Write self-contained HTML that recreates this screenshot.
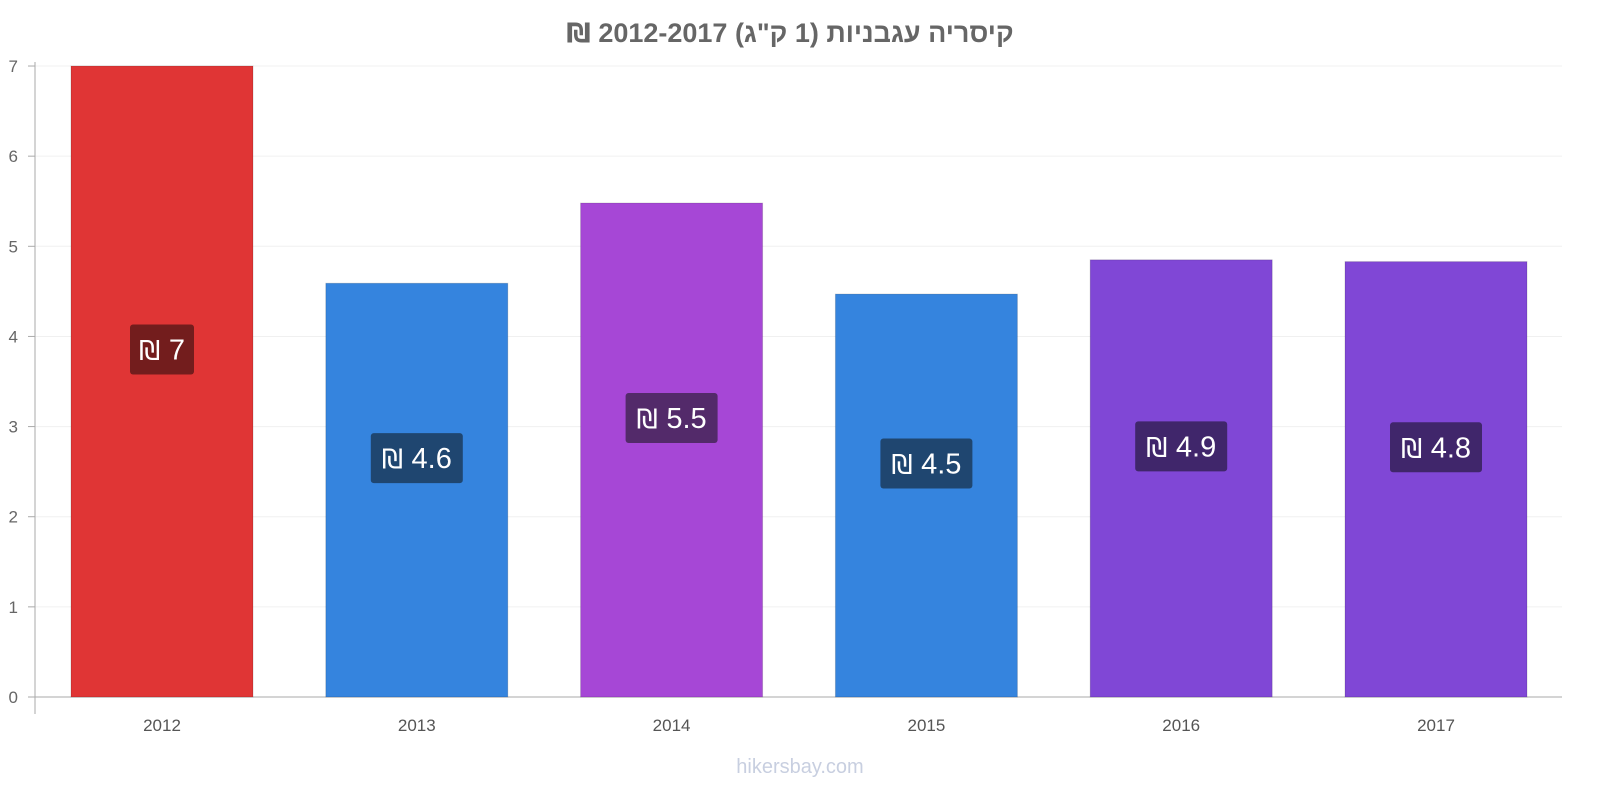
<!DOCTYPE html>
<html><head><meta charset="utf-8"><style>
body{margin:0;background:#fff;font-family:"Liberation Sans",sans-serif}
</style></head><body>
<svg id="c" width="1600" height="800" xmlns="http://www.w3.org/2000/svg">
<text x="790" y="42" text-anchor="middle" direction="rtl" font-size="27" font-weight="bold" fill="#666" font-family="Liberation Sans, DejaVu Sans, sans-serif">קיסריה עגבניות (1 ק"ג) 2012-2017 <tspan font-family="DejaVu Sans, sans-serif">₪</tspan></text>
<g id="grid"></g><g id="bars"></g>
<text x="800" y="773" text-anchor="middle" font-size="20" fill="#c8cfe0">hikersbay.com</text>
</svg>
<script>
const categories=["2012","2013","2014","2015","2016","2017"];
const values=[7,4.59,5.48,4.47,4.85,4.83];
const labels=["7","4.6","5.5","4.5","4.9","4.8"];
const yTicks=[0,1,2,3,4,5,6,7];
const colors=["#e03535","#3584de","#a647d6","#3584de","#8047d6","#8047d6"];
const labelBg=["#731d1d","#1f4670","#532a6a","#1f4670","#40266b","#40266b"];
const NS="http://www.w3.org/2000/svg";
const y=v=>697-v*90.14, x=i=>71+i*254.8, bw=182;
const g=document.getElementById('grid'), b=document.getElementById('bars');
function mk(p,t,a){const e=document.createElementNS(NS,t);for(const k in a)e.setAttribute(k,a[k]);p.appendChild(e);return e;}
yTicks.forEach(t=>{
 const l=mk(g,'line',{x1:35,x2:1562,y1:y(t),y2:y(t),stroke:t?'#f0f0f0':'#aaa'});
 
 
 mk(g,'line',{x1:28,x2:35,y1:y(t),y2:y(t),stroke:'#aaa'});
 const tx=mk(g,'text',{x:18,y:y(t)+6,'text-anchor':'end','font-size':17,fill:'#666'});tx.textContent=t;
 
 
});
const ax=mk(g,'line',{x1:35,x2:35,y1:62,y2:714,stroke:'#aaa'});


values.forEach((v,i)=>{
 const r=mk(b,'rect',{x:x(i),y:y(v),width:bw,height:697-y(v),fill:colors[i],stroke:'rgba(0,0,0,0.15)'});
 
 
 const cx=x(i)+bw/2, cy=(y(v)+697)/2-32;
 const w=labels[i].length*14+50;
 const lb=mk(b,'rect',{x:cx-w/2,y:cy-25,width:w,height:50,rx:3,fill:labelBg[i]});
 
 
 const t=mk(b,'text',{x:cx,y:cy+10,'text-anchor':'middle','font-size':29,fill:'#fff'});
 const s=mk(t,'tspan',{'font-family':'DejaVu Sans, sans-serif','font-size':27});s.textContent='₪ ';
 const s2=mk(t,'tspan',{});s2.textContent=labels[i];
 
 
 const xl=mk(b,'text',{x:cx,y:731,'text-anchor':'middle','font-size':17,fill:'#555'});xl.textContent=categories[i];
 
 
});
</script>
</body></html>
